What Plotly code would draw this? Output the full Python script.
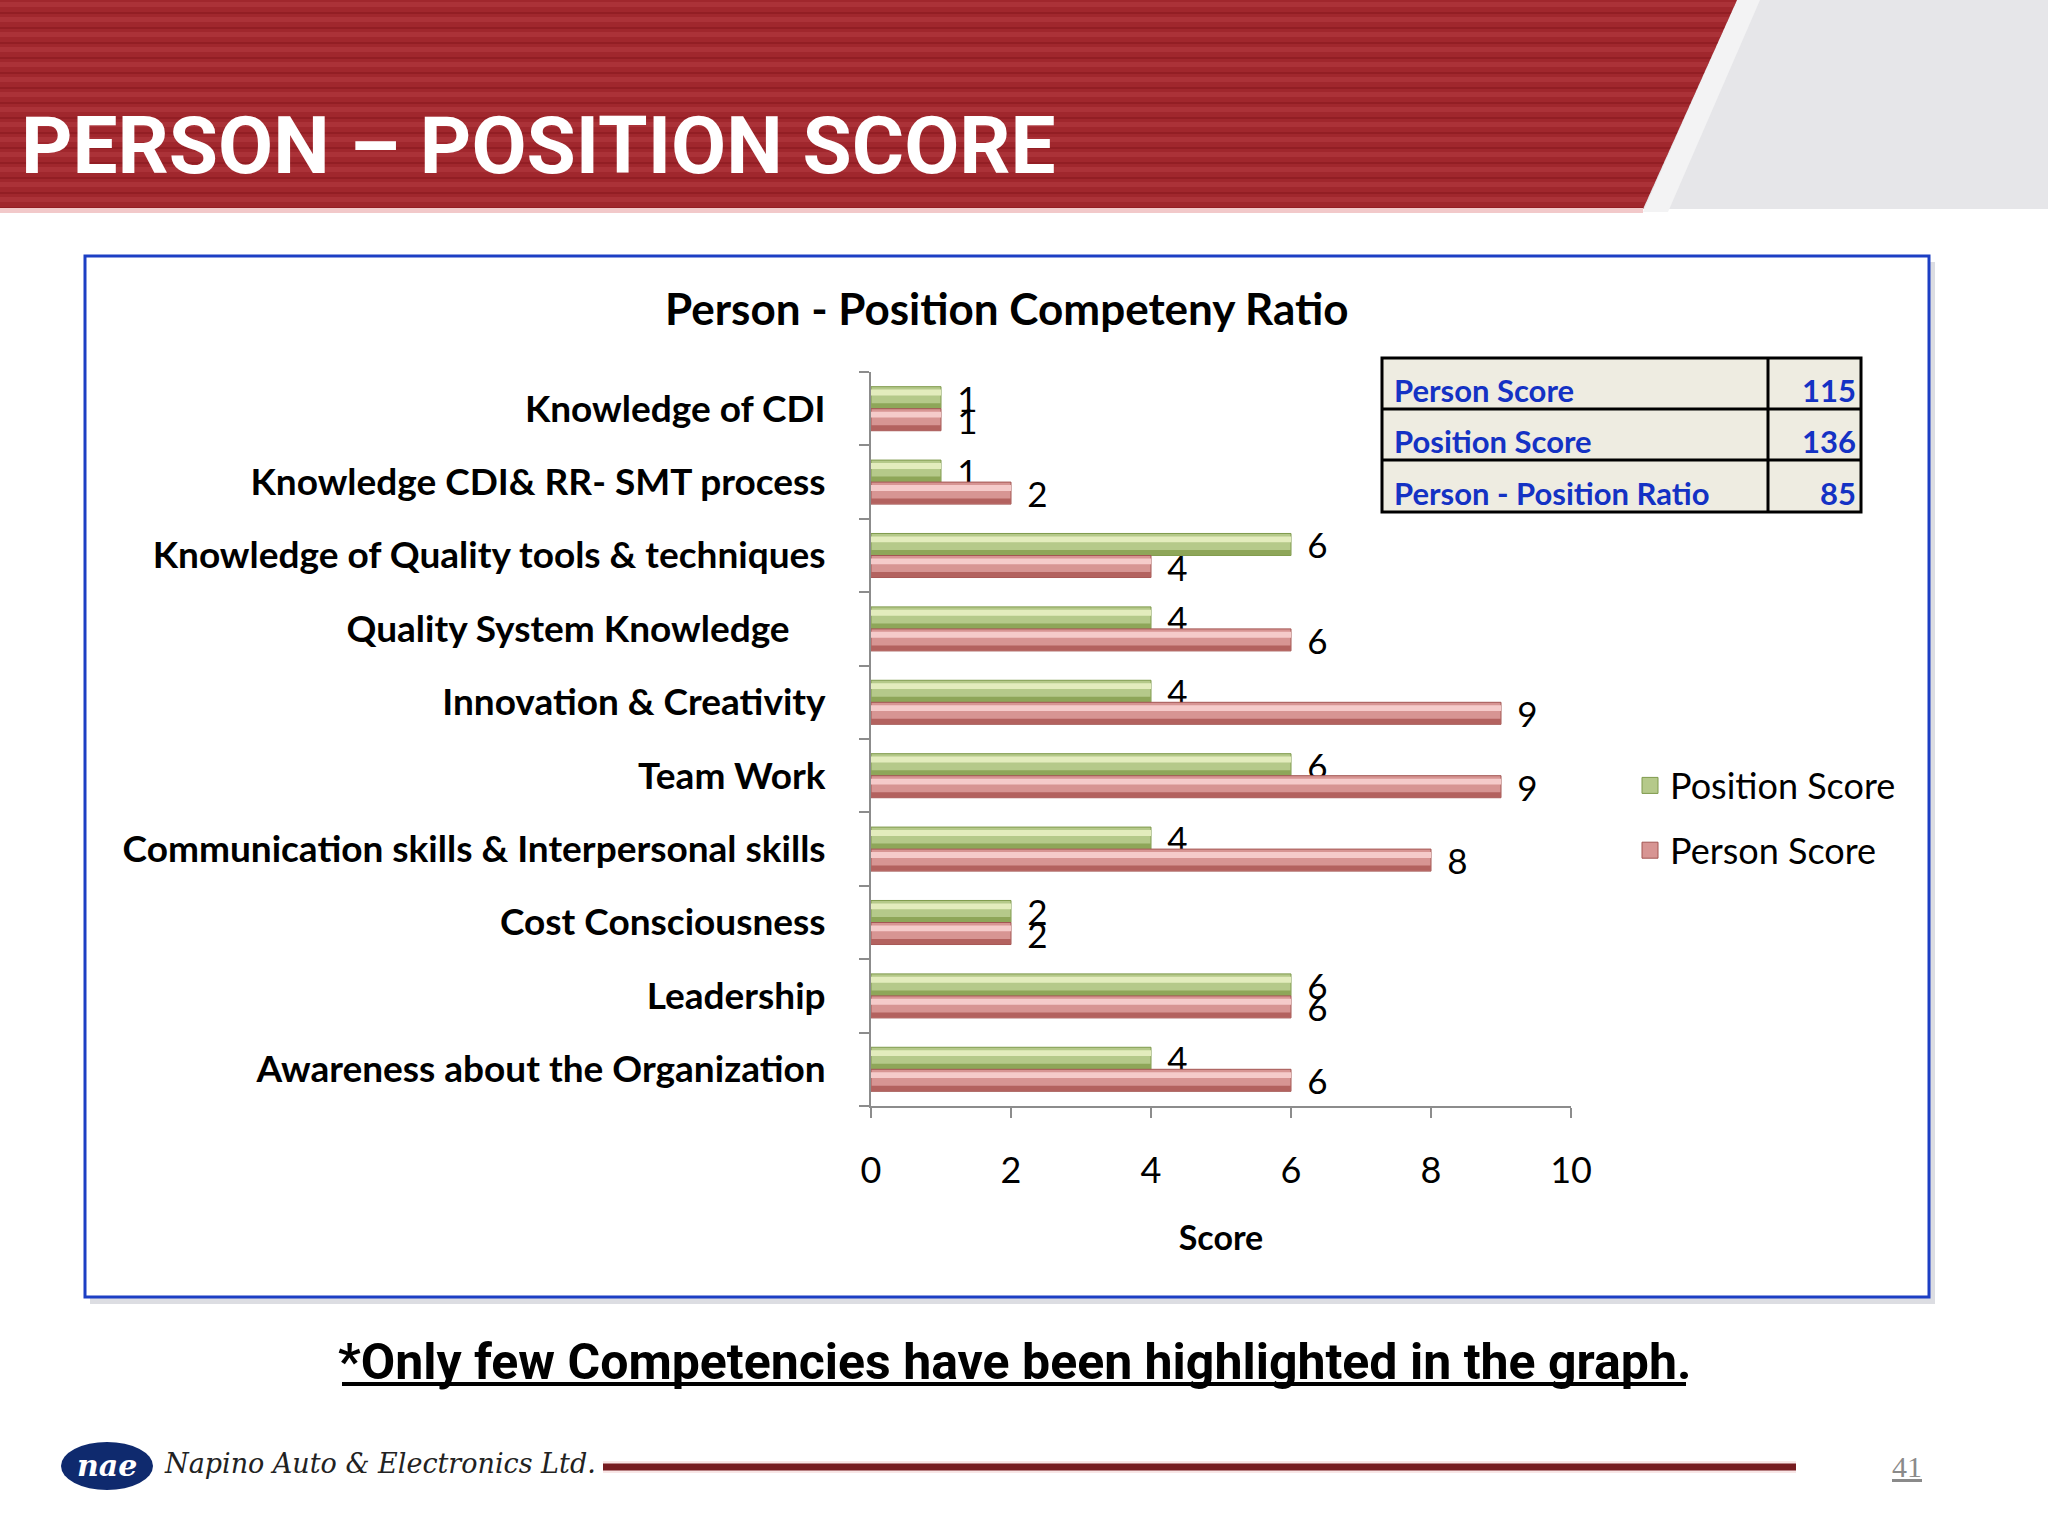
import plotly.graph_objects as go

# ---------------- data ----------------
categories = [
    "Knowledge of CDI",
    "Knowledge CDI& RR- SMT process",
    "Knowledge of Quality tools & techniques",
    "Quality System Knowledge",
    "Innovation & Creativity",
    "Team Work",
    "Communication skills & Interpersonal skills",
    "Cost Consciousness",
    "Leadership",
    "Awareness about the Organization",
]
tick_labels = [
    "Knowledge of CDI",
    "Knowledge CDI& RR- SMT process",
    "Knowledge of Quality tools & techniques",
    "Quality System Knowledge\u00a0\u00a0\u00a0\u00a0",
    "Innovation & Creativity",
    "Team Work",
    "Communication skills & Interpersonal skills",
    "Cost Consciousness",
    "Leadership",
    "Awareness about the Organization",
]
position_score = [1, 1, 6, 4, 4, 6, 4, 2, 6, 4]
person_score = [1, 2, 4, 6, 9, 9, 8, 2, 6, 6]
x_ticks = [0, 2, 4, 6, 8, 10]

table_labels = ["Person Score", "Position Score", "Person - Position Ratio"]
table_values = [115, 136, 85]

page_title = "PERSON \u2013 POSITION SCORE"
chart_title = "Person - Position Competeny Ratio"
footnote = "*Only few Competencies have been highlighted in the graph."
company = "Napino Auto & Electronics Ltd."
page_number = "41"

W, H = 2048, 1536


def X(px):
    return px / W


def Y(py):
    return 1 - py / H


CAL = "Lato, 'Open Sans', sans-serif"

fig = go.Figure()

BW = 0.30  # bar thickness in category units

series = [
    ("Position Score", position_score, -BW, "#b5c98a", "#e3ecbd", "#8ea659", "#7f9a4c"),
    ("Person Score", person_score, 0.0, "#d79593", "#f5cbca", "#b3625f", "#a35653"),
]
for name, vals, off, mid, light, dark, edge in series:
    fig.add_trace(go.Bar(
        y=categories, x=vals, orientation="h", name=name,
        offset=off, width=BW, marker=dict(color=mid, line=dict(color=edge, width=1)),
        text=vals, texttemplate="\u00a0\u2009%{x}", textposition="outside",
        textfont=dict(family=CAL, size=35, color="black"), constraintext="none",
        cliponaxis=False, hoverinfo="skip", showlegend=False,
    ))
    fig.add_trace(go.Bar(
        y=categories, x=vals, orientation="h", name=name + " hl",
        offset=off + 0.04, width=0.08, marker=dict(color=light, line=dict(width=0)),
        showlegend=False, hoverinfo="skip",
    ))
    fig.add_trace(go.Bar(
        y=categories, x=vals, orientation="h", name=name + " sh",
        offset=off + BW - 0.075, width=0.07, marker=dict(color=dark, line=dict(width=0)),
        showlegend=False, hoverinfo="skip",
    ))
    # legend entry (square swatch)
    fig.add_trace(go.Scatter(
        x=[None], y=[None], mode="markers", name=name, legendgroup=name,
        marker=dict(symbol="square", size=16, color=mid, line=dict(color=edge, width=1)),
        hoverinfo="skip",
    ))

shapes = []
# header
shapes.append(dict(type="rect", xref="paper", yref="paper", x0=0, x1=1, y0=Y(209), y1=1,
                   fillcolor="#e6e6e9", line=dict(width=0), layer="below"))
shapes.append(dict(type="path", xref="paper", yref="paper",
                   path=f"M {X(1737)},{Y(0)} L {X(1760)},{Y(0)} L {X(1668)},{Y(212)} L {X(1643)},{Y(212)} Z",
                   fillcolor="#f3f3f4", line=dict(width=0), layer="below"))
shapes.append(dict(type="path", xref="paper", yref="paper",
                   path=f"M 0,{Y(0)} L {X(1737)},{Y(0)} L {X(1643)},{Y(209)} L 0,{Y(209)} Z",
                   fillcolor="#a0272d", line=dict(width=0), layer="below"))
for i in range(0, 205, 15):
    for (a, b, col) in ((2, 7, "rgba(185,65,70,0.45)"), (12, 14, "rgba(120,15,20,0.35)")):
        y0 = i + a
        y1 = min(i + b, 209)
        if y0 >= 209:
            continue
        xr0 = 1737 - (1737 - 1643) * y0 / 209
        xr1 = 1737 - (1737 - 1643) * y1 / 209
        shapes.append(dict(type="path", xref="paper", yref="paper",
                           path=f"M 0,{Y(y0)} L {X(xr0)},{Y(y0)} L {X(xr1)},{Y(y1)} L 0,{Y(y1)} Z",
                           fillcolor=col, line=dict(width=0), layer="below"))
shapes.append(dict(type="rect", xref="paper", yref="paper", x0=0, x1=X(1643), y0=Y(213), y1=Y(208),
                   fillcolor="#f2c9ca", line=dict(width=0), layer="below"))

# chart box (shadow + border)
shapes.append(dict(type="rect", xref="paper", yref="paper", x0=X(90), x1=X(1935), y0=Y(1304), y1=Y(262),
                   fillcolor="#dcdde2", line=dict(width=0), layer="below"))
shapes.append(dict(type="rect", xref="paper", yref="paper", x0=X(85), x1=X(1929), y0=Y(1297), y1=Y(256),
                   fillcolor="white", line=dict(color="#1c3fc4", width=3), layer="below"))

# table
tx0, tx1, tdiv = 1382, 1861, 1768
rows = [358, 409, 460, 512]
shapes.append(dict(type="rect", xref="paper", yref="paper", x0=X(tx0), x1=X(tx1), y0=Y(rows[-1]), y1=Y(rows[0]),
                   fillcolor="#eeece1", line=dict(color="black", width=3)))
for r in rows[1:-1]:
    shapes.append(dict(type="line", xref="paper", yref="paper", x0=X(tx0), x1=X(tx1), y0=Y(r), y1=Y(r),
                       line=dict(color="black", width=3)))
shapes.append(dict(type="line", xref="paper", yref="paper", x0=X(tdiv), x1=X(tdiv), y0=Y(rows[0]), y1=Y(rows[-1]),
                   line=dict(color="black", width=3)))

# footnote underline
shapes.append(dict(type="line", xref="paper", yref="paper", x0=X(342), x1=X(1686), y0=Y(1384), y1=Y(1384),
                   line=dict(color="black", width=4)))

# footer logo + red line
shapes.append(dict(type="circle", xref="paper", yref="paper", x0=X(61), x1=X(153), y0=Y(1490), y1=Y(1442),
                   fillcolor="#0f2a6e", line=dict(width=0)))
shapes.append(dict(type="rect", xref="paper", yref="paper", x0=X(603), x1=X(1796), y0=Y(1461), y1=Y(1473),
                   fillcolor="#f8e6e6", line=dict(width=0), layer="below"))
shapes.append(dict(type="line", xref="paper", yref="paper", x0=X(603), x1=X(1796), y0=Y(1467), y1=Y(1467),
                   line=dict(color="#761b1f", width=7)))

annotations = []
annotations.append(dict(text=f"<b>{page_title}</b>", x=X(19), y=Y(146), xref="paper", yref="paper",
                        xanchor="left", yanchor="middle", showarrow=False,
                        font=dict(family="Roboto, Lato, sans-serif", size=80, color="white")))
annotations.append(dict(text=f"<b>{chart_title}</b>", x=X(1007), y=Y(308), xref="paper", yref="paper",
                        xanchor="center", yanchor="middle", showarrow=False,
                        font=dict(family=CAL, size=44, color="black")))
row_centers = [390, 441, 493]
for lab, val, cy in zip(table_labels, table_values, row_centers):
    annotations.append(dict(text=f"<b>{lab}</b>", x=X(1392), y=Y(cy), xref="paper", yref="paper",
                            xanchor="left", yanchor="middle", showarrow=False,
                            font=dict(family=CAL, size=31, color="#1432c4")))
    annotations.append(dict(text=f"<b>{val}</b>", x=X(1858), y=Y(cy), xref="paper", yref="paper",
                            xanchor="right", yanchor="middle", showarrow=False,
                            font=dict(family=CAL, size=31, color="#1432c4")))
annotations.append(dict(text=f"<b>{footnote}</b>", x=X(1014), y=Y(1362), xref="paper", yref="paper",
                        xanchor="center", yanchor="middle", showarrow=False,
                        font=dict(family="Roboto, Lato, sans-serif", size=50, color="black")))
annotations.append(dict(text="<i><b>nae</b></i>", x=X(107), y=Y(1465), xref="paper", yref="paper",
                        xanchor="center", yanchor="middle", showarrow=False,
                        font=dict(family="'DejaVu Serif', serif", size=30, color="white")))
annotations.append(dict(text=f"<i>{company}</i>", x=X(162), y=Y(1463), xref="paper", yref="paper",
                        xanchor="left", yanchor="middle", showarrow=False,
                        font=dict(family="'DejaVu Serif', serif", size=27, color="#222222")))
annotations.append(dict(text=f"<u>{page_number}</u>", x=X(1907), y=Y(1466), xref="paper", yref="paper",
                        xanchor="center", yanchor="middle", showarrow=False,
                        font=dict(family="'Liberation Serif', serif", size=30, color="#8a8a8a")))

fig.update_layout(
    width=W, height=H, autosize=False, margin=dict(l=0, r=0, t=0, b=0, pad=0, autoexpand=False),
    paper_bgcolor="white", plot_bgcolor="rgba(0,0,0,0)",
    barmode="overlay",
    showlegend=True,
    legend=dict(x=X(1630), y=Y(818), xanchor="left", yanchor="middle",
                font=dict(family=CAL, size=36, color="black"),
                traceorder="grouped", tracegroupgap=15, bgcolor="rgba(0,0,0,0)"),
    xaxis=dict(domain=[X(871), X(1571)], range=[0, 10], tickvals=x_ticks, automargin=False,
               showgrid=False, zeroline=False, showline=True, linecolor="#8c8c8c", linewidth=2,
               ticks="outside", ticklen=10, tickcolor="#8c8c8c", tickwidth=2,
               tickfont=dict(family=CAL, size=36, color="black"), ticklabelstandoff=22,
               title=dict(text="<b>Score</b>", font=dict(family=CAL, size=34, color="black"), standoff=36)),
    yaxis=dict(domain=[Y(1106), Y(372)], type="category", automargin=False,
               categoryorder="array", categoryarray=categories, autorange="reversed",
               tickvals=categories, ticktext=tick_labels, tickson="boundaries",
               showgrid=False, zeroline=False, showline=True, linecolor="#8c8c8c", linewidth=2,
               ticks="outside", ticklen=10, tickcolor="#8c8c8c", tickwidth=2,
               tickfont=dict(family=CAL, size=37, color="black", weight="bold"), ticklabelstandoff=36),
    shapes=shapes, annotations=annotations,
)

post = (
    "document.documentElement.style.margin='0';document.documentElement.style.overflow='hidden';"
    "document.body.style.margin='0';document.body.style.padding='0';document.body.style.overflow='hidden';"
    "var gd=document.getElementById('{plot_id}');Plotly.relayout(gd,{width:2048,height:1536});"
)
fig.write_html("out.html", config={"displayModeBar": False, "responsive": False}, post_script=post)
